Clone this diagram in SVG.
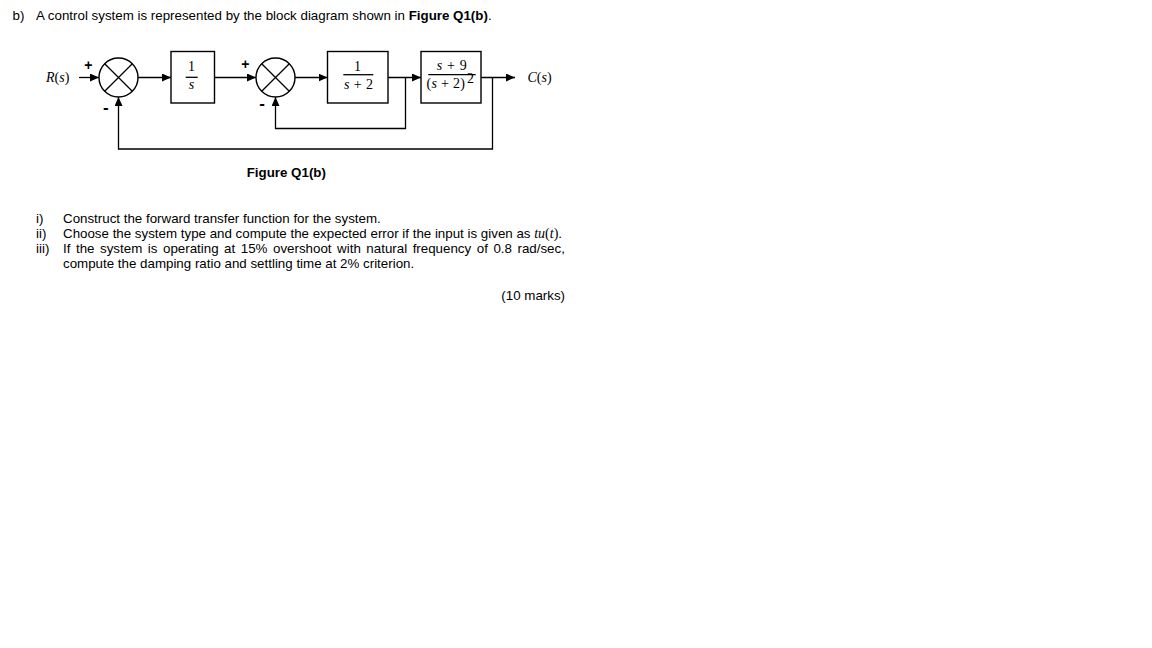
<svg xmlns="http://www.w3.org/2000/svg" width="1152" height="648" viewBox="0 0 1152 648">
<defs>
<marker id="arr" markerUnits="userSpaceOnUse" markerWidth="9" markerHeight="8" refX="9" refY="4" orient="auto">
<path d="M0,0 L9,4 L0,8 z" fill="#000"/>
</marker>
<style>
.t{font-family:"Liberation Sans",Arial,sans-serif;font-size:13.33px;fill:#000}
.b{font-weight:bold}
.m{font-family:"Liberation Serif","Times New Roman",serif;font-size:14px;fill:#000}
.i{font-style:italic}
.ln{stroke:#000;stroke-width:1.3;fill:none}
.blk{stroke:#000;stroke-width:1.4;fill:#fff}
.sg{font-family:"Liberation Sans",Arial,sans-serif;font-size:14px;font-weight:bold;fill:#000}
.mn{font-family:"Liberation Sans",Arial,sans-serif;font-size:17px;font-weight:bold;fill:#000}
</style>
</defs>
<rect width="1152" height="648" fill="#fff"/>

<g id="header">
<text class="t" x="12.5" y="19.5">b)</text>
<text class="t" x="36" y="19.5">A control system is represented by the block diagram shown in <tspan class="b">Figure Q1(b)</tspan>.</text>
</g>

<g id="connectors">
<path class="ln" d="M79,77.5 H99" marker-end="url(#arr)"/>
<path class="ln" d="M138,77.5 H171" marker-end="url(#arr)"/>
<path class="ln" d="M214.5,77.5 H256" marker-end="url(#arr)"/>
<path class="ln" d="M295,77.5 H327.5" marker-end="url(#arr)"/>
<path class="ln" d="M388,77.5 H421" marker-end="url(#arr)"/>
<path class="ln" d="M481,77.5 H515" marker-end="url(#arr)"/>
<path class="ln" d="M405.5,77.5 V128.5 H275.5 V97" marker-end="url(#arr)"/>
<path class="ln" d="M492.5,77.5 V149 H118.5 V97" marker-end="url(#arr)"/>
</g>

<g id="input">
<text class="m" x="46" y="81.5" textLength="23.5" lengthAdjust="spacing"><tspan class="i">R</tspan>(<tspan class="i">s</tspan>)</text>
</g>

<g id="sum1">
<circle class="blk" cx="118.5" cy="77.5" r="19.5"/>
<path class="ln" d="M104.7,63.7 L132.3,91.3 M132.3,63.7 L104.7,91.3"/>
<text class="sg" x="88.3" y="70" text-anchor="middle">+</text>
<text class="mn" x="105.8" y="112.5" text-anchor="middle">-</text>
</g>

<g id="block1">
<rect class="blk" x="171" y="51.5" width="43.5" height="51.5"/>
<text class="m" x="191.5" y="71" text-anchor="middle">1</text>
<path class="ln" d="M185.7,77.3 H197.7" stroke-width="1"/>
<text class="m i" x="191.5" y="89" text-anchor="middle">s</text>
</g>

<g id="sum2">
<circle class="blk" cx="275.5" cy="77.5" r="19.5"/>
<path class="ln" d="M261.7,63.7 L289.3,91.3 M289.3,63.7 L261.7,91.3"/>
<text class="sg" x="245.3" y="69" text-anchor="middle">+</text>
<text class="mn" x="262" y="108.5" text-anchor="middle">-</text>
</g>

<g id="block2">
<rect class="blk" x="327.5" y="51.5" width="60.5" height="51.5"/>
<text class="m" x="357.5" y="70.5" text-anchor="middle">1</text>
<path class="ln" d="M343.3,74.7 H373.3" stroke-width="1"/>
<text class="m" x="344" y="88.5" textLength="29" lengthAdjust="spacing"><tspan class="i">s</tspan> + 2</text>
</g>

<g id="block3">
<rect class="blk" x="421" y="51.5" width="60" height="51.5"/>
<text class="m" x="436.7" y="69.5" textLength="30" lengthAdjust="spacing"><tspan class="i">s</tspan> + 9</text>
<path class="ln" d="M428.3,74.7 H475.7" stroke-width="1"/>
<text class="m" x="426.5" y="88.3" textLength="38.5" lengthAdjust="spacing">(<tspan class="i">s</tspan> + 2)</text>
<text class="m" x="467" y="83" font-size="9.5">2</text>
</g>

<g id="output">
<text class="m" x="527.5" y="81.5"><tspan class="i">C</tspan>(<tspan class="i">s</tspan>)</text>
</g>

<g id="caption">
<text class="t b" x="246.7" y="176.8">Figure Q1(b)</text>
</g>

<g id="questions">
<text class="t" x="36" y="222.5">i)</text>
<text class="t" x="63" y="222.5">Construct the forward transfer function for the system.</text>
<text class="t" x="36" y="237.8">ii)</text>
<text class="t" x="63" y="237.8">Choose the system type and compute the expected error if the input is given as <tspan class="m i" font-size="13.33">tu</tspan><tspan class="m" font-size="13.33">(</tspan><tspan class="m i" font-size="13.33">t</tspan><tspan class="m" font-size="13.33">)</tspan>.</text>
<text class="t" x="36" y="253.1">iii)</text>
<text class="t" x="63" y="253.1" word-spacing="1.85">If the system is operating at 15% overshoot with natural frequency of 0.8 rad/sec,</text>
<text class="t" x="63" y="268">compute the damping ratio and settling time at 2% criterion.</text>
<text class="t" x="565" y="300" text-anchor="end">(10 marks)</text>
</g>
</svg>
